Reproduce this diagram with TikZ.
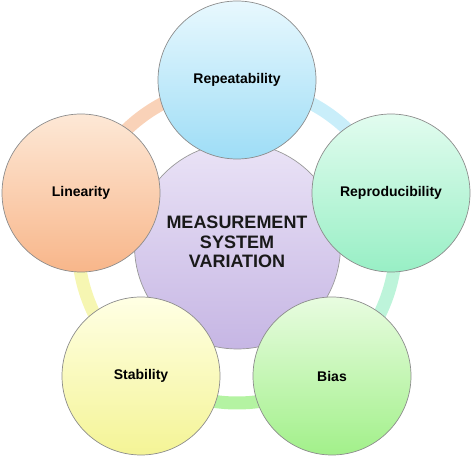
\documentclass[tikz,border=0pt]{standalone}
\usepackage{fontspec}
\setmainfont{Liberation Sans}
\begin{document}
\begin{tikzpicture}[x=1pt,y=1pt,
  outer/.style={circle, draw=black!45, line width=0.7pt, minimum size=158pt, inner sep=0pt,
    font=\fontsize{14}{16}\selectfont\bfseries, text=black},
  center/.style={circle, draw=black!40, line width=0.7pt, minimum size=206pt, inner sep=0pt,
    font=\fontsize{18}{19}\selectfont\bfseries, align=center, text=black!90},
  ring/.style={line width=13pt}]
\useasboundingbox (0,0) rectangle (474,458);
\definecolor{repT}{HTML}{E8F8FE}\definecolor{repB}{HTML}{9EDDF6}
\definecolor{proT}{HTML}{E2FCEF}\definecolor{proB}{HTML}{98EFC5}
\definecolor{biaT}{HTML}{E8FCE0}\definecolor{biaB}{HTML}{A2F08A}
\definecolor{staT}{HTML}{FFFFE4}\definecolor{staB}{HTML}{F4F496}
\definecolor{linT}{HTML}{FDE8D6}\definecolor{linB}{HTML}{F8B68A}
\definecolor{cenT}{HTML}{EAE3F6}\definecolor{cenB}{HTML}{C6B6E4}
\definecolor{ringLin}{HTML}{F9D2B8}
\definecolor{ringRep}{HTML}{C9EEFA}
\definecolor{ringPro}{HTML}{BDF4DA}
\definecolor{ringBia}{HTML}{B4F3A2}
\definecolor{ringSta}{HTML}{F6F6B2}
\coordinate (rc) at (237,214);
\draw[ring, ringLin] (rc) ++(162:159) arc[start angle=162, end angle=90, radius=159];
\draw[ring, ringRep] (rc) ++(90:159) arc[start angle=90, end angle=18, radius=159];
\draw[ring, ringPro] (rc) ++(18:159) arc[start angle=18, end angle=-54, radius=159];
\draw[ring, ringBia] (rc) ++(-54:159) arc[start angle=-54, end angle=-126, radius=159];
\draw[ring, ringSta] (rc) ++(-126:159) arc[start angle=-126, end angle=-198, radius=159];
\node[center, top color=cenT, bottom color=cenB] (msv) at (237.5,212) {};
\node[font=\fontsize{18}{19.5}\selectfont\bfseries, align=center, text=black!90] (msvt) at (237,216) {MEASUREMENT\\SYSTEM\\VARIATION};
\node[outer, top color=repT, bottom color=repB] (rep) at (237,378) {Repeatability};
\node[outer, top color=proT, bottom color=proB] (pro) at (391,265) {Reproducibility};
\node[outer, top color=biaT, bottom color=biaB] (bia) at (332,82) {Bias};
\node[outer, top color=staT, bottom color=staB] (sta) at (141,82) {Stability};
\node[outer, top color=linT, bottom color=linB] (lin) at (81,265) {Linearity};
\end{tikzpicture}
\end{document}
